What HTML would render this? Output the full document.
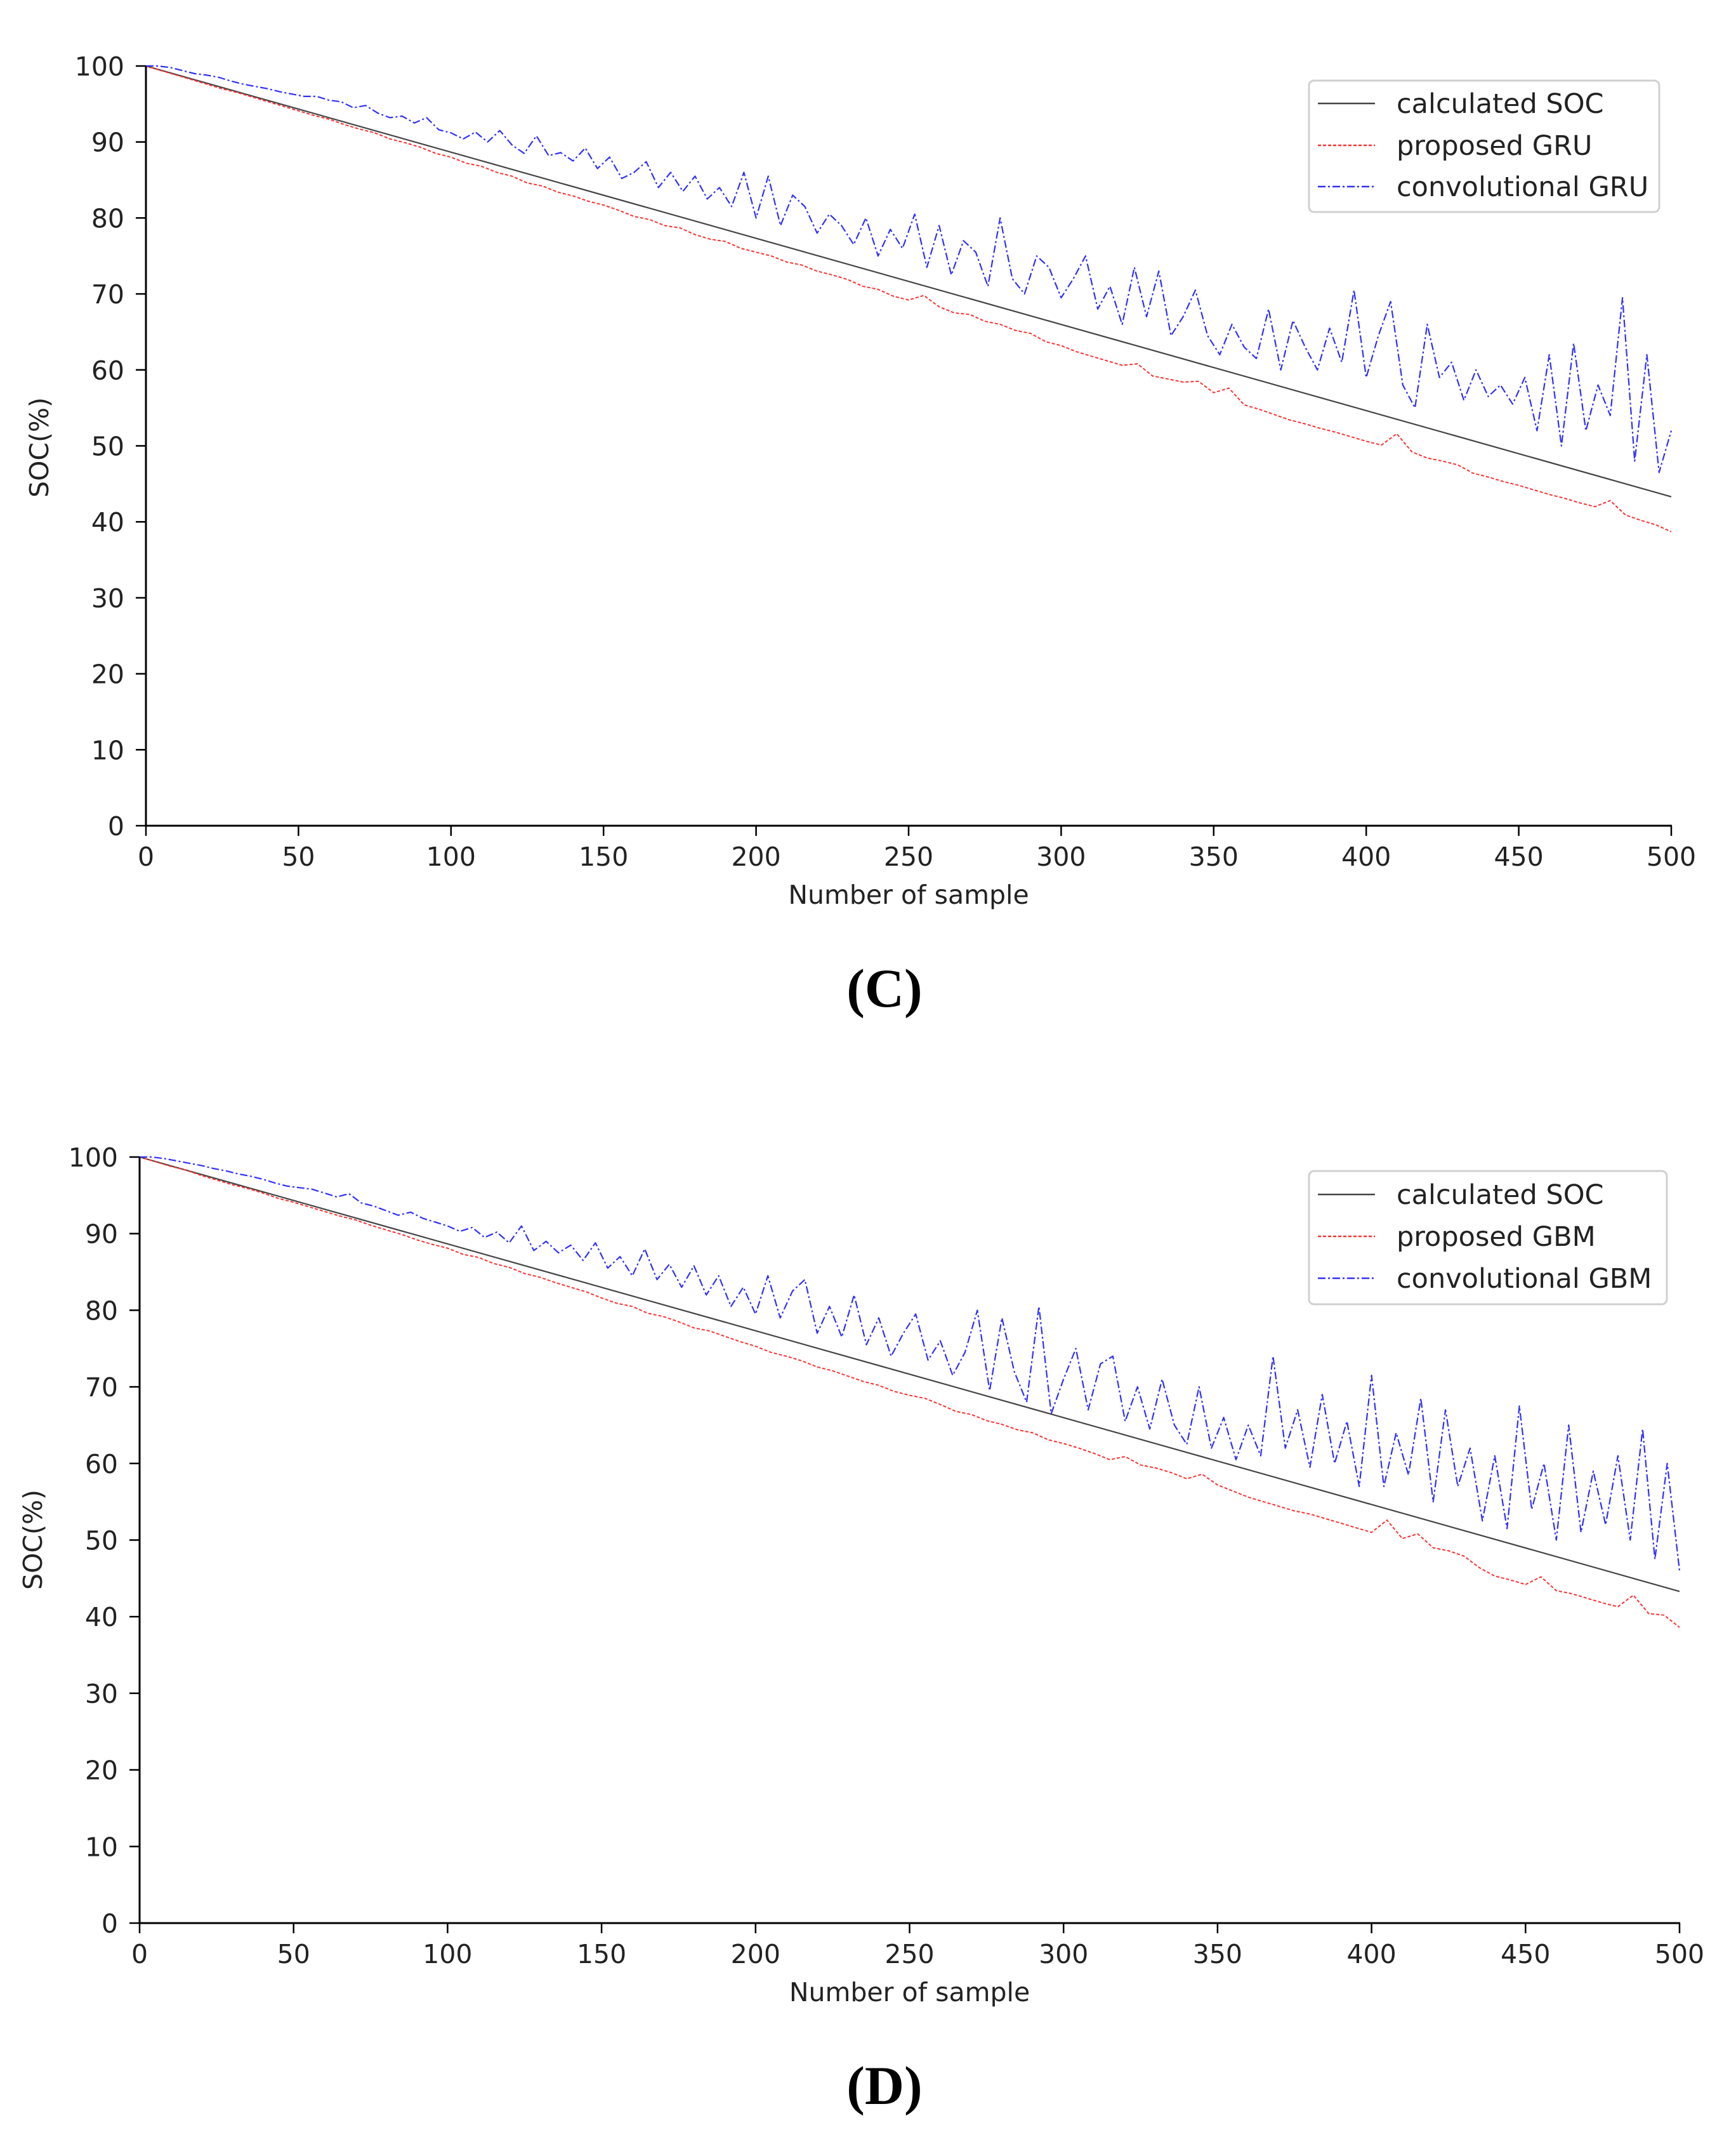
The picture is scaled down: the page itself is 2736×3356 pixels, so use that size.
<!DOCTYPE html>
<html><head><meta charset="utf-8"><style>
html,body{margin:0;padding:0;background:#fff}
svg{display:block}
text{font-family:"DejaVu Sans","Liberation Sans",sans-serif;fill:#222}
</style></head><body>
<svg id="fig" xmlns="http://www.w3.org/2000/svg" width="2736" height="3356" viewBox="0 0 2736 3356"></svg>
<script>
const xTicks=[0,50,100,150,200,250,300,350,400,450,500];
const yTicks=[0,10,20,30,40,50,60,70,80,90,100];
const calcX=[0,500];
const calcC=[100,43.3];
const calcD=[100,43.3];
const redC=[100,99.4,98.8,98.2,97.6,97.0,96.5,95.9,95.3,94.7,94.1,93.5,93.0,92.3,91.7,91.2,90.4,89.9,89.3,88.5,88.0,87.2,86.8,86.0,85.5,84.6,84.2,83.4,82.9,82.2,81.7,81.0,80.2,79.8,79.0,78.7,77.8,77.2,76.9,76.0,75.5,75.0,74.2,73.8,73.0,72.5,71.9,71.0,70.6,69.7,69.2,69.8,68.3,67.5,67.3,66.4,66.0,65.2,64.8,63.7,63.2,62.4,61.8,61.2,60.6,60.8,59.2,58.8,58.4,58.5,57.0,57.6,55.4,54.8,54.1,53.4,52.9,52.3,51.8,51.2,50.6,50.1,51.6,49.2,48.4,48.0,47.5,46.4,45.9,45.3,44.8,44.2,43.6,43.1,42.5,42.0,42.8,40.9,40.2,39.6,38.7];
const blueC=[100,100,99.8,99.4,99,98.8,98.5,98,97.6,97.3,97,96.6,96.3,96,96,95.5,95.3,94.5,94.8,93.8,93.2,93.4,92.5,93.2,91.6,91.2,90.4,91.3,90,91.5,89.6,88.5,90.8,88.2,88.6,87.5,89.2,86.5,88,85.2,86,87.4,84,86,83.5,85.5,82.5,84,81.5,86,80,85.5,79,83,81.5,78,80.5,79,76.5,80,75,78.5,76,80.5,73.5,79,72.5,77,75.5,71,80,72,70,75,73.5,69.5,72,75,68,71,66,73.5,67,73,64.5,67,70.5,64.5,62,66,63,61.5,68,60,66.5,63,60,65.5,61,70.5,59,64.5,69,58,55,66,59,61,56,60,56.5,58,55.5,59,52,62,50,63.5,52,58,54,69.5,48,62,46.5,52];
const redD=[100,99.4,98.8,98.3,97.6,97.0,96.4,95.9,95.3,94.6,94.1,93.5,92.9,92.3,91.8,91.1,90.5,89.9,89.2,88.6,88.1,87.3,86.9,86.1,85.6,84.8,84.3,83.6,83.0,82.4,81.6,80.9,80.5,79.6,79.2,78.5,77.7,77.3,76.6,75.9,75.3,74.5,74.0,73.4,72.6,72.1,71.4,70.7,70.2,69.4,68.9,68.5,67.7,66.8,66.4,65.6,65.1,64.4,64.0,63.1,62.6,62.0,61.3,60.5,60.9,59.8,59.4,58.8,58.0,58.6,57.2,56.4,55.6,55.0,54.4,53.8,53.4,52.8,52.2,51.6,51.0,52.6,50.2,50.8,49.0,48.6,47.9,46.4,45.3,44.8,44.2,45.2,43.4,43.0,42.4,41.8,41.3,42.8,40.4,40.2,38.6];
const blueD=[100,100,99.8,99.5,99.2,98.9,98.5,98.2,97.8,97.5,97.1,96.6,96.2,96,95.8,95.3,94.8,95.2,94,93.6,93,92.4,92.8,92,91.5,91,90.3,90.8,89.5,90.2,88.8,91,87.8,89,87.5,88.5,86.5,88.8,85.5,87,84.5,88,84,86,83,85.8,82,84.5,80.5,83,79.5,84.5,79,82.5,84,77,80.5,76.5,82,75.5,79,74,77,79.5,73.5,76,71.5,74.5,80,69.5,79,72,68,80.5,66.5,71,75,67,73,74,65.5,70,64.5,71,65,62.5,70,62,66,60.5,65,61,74,62,67,59.5,69,60,65.5,57,71.5,57,64,58.5,68.5,55,67,57,62,52.5,61,51.5,67.5,54,60,50,65,51,59,52,61,50,64.5,47.5,60,46];
const redStep=5, blueStep=4;

const NS="http://www.w3.org/2000/svg";
const svg=document.getElementById('fig');
function mk(tag,attrs,parent){const e=document.createElementNS(NS,tag);for(const k in attrs)e.setAttribute(k,attrs[k]);(parent||svg).appendChild(e);return e;}

function drawChart(cfg){
  const g=mk('g',{});
  
  
  const sx=v=>cfg.x0+(cfg.x1-cfg.x0)*v/500;
  const sy=v=>cfg.y0+(cfg.y100-cfg.y0)*v/100;
  const path=(xs,ys)=>ys.map((v,i)=>(i?'L':'M')+sx(xs[i]).toFixed(1)+' '+sy(v).toFixed(1)).join(' ');
  const idx=(arr,step)=>arr.map((_,i)=>i*step);
  const c=mk('path',{d:path(calcX,cfg.calc),fill:'none',stroke:'#444',"stroke-width":2.2},g);
  
  
  const r=mk('path',{d:path(idx(cfg.red,redStep),cfg.red),fill:'none',stroke:'#ff3030',"stroke-width":2,"stroke-dasharray":"5 3"},g);
  
  
  const b=mk('path',{d:path(idx(cfg.blue,blueStep),cfg.blue),fill:'none',stroke:'#3030ff',"stroke-width":2.2,"stroke-dasharray":"12 4 3 4","stroke-linejoin":"round"},g);
  
  
  // axes
  const ya=mk('line',{x1:cfg.x0,y1:cfg.y100,x2:cfg.x0,y2:cfg.y0+1.5,stroke:'#000',"stroke-width":3},g);
  
  
  const xa=mk('line',{x1:cfg.x0-1.5,y1:cfg.y0,x2:cfg.x1+1,y2:cfg.y0,stroke:'#000',"stroke-width":3},g);
  
  
  xTicks.forEach(v=>{
    mk('line',{x1:sx(v),y1:cfg.y0,x2:sx(v),y2:cfg.y0+16,stroke:'#000',"stroke-width":2.5},g);
    const t=mk('text',{x:sx(v),y:cfg.y0+63,"text-anchor":"middle","font-size":41},g);
    t.textContent=v;
    
    
  });
  yTicks.forEach(v=>{
    mk('line',{x1:cfg.x0-16,y1:sy(v),x2:cfg.x0,y2:sy(v),stroke:'#000',"stroke-width":2.5},g);
    const t=mk('text',{x:cfg.x0-34,y:sy(v)+15,"text-anchor":"end","font-size":41},g);
    t.textContent=v;
    
    
  });
  const xl=mk('text',{x:(cfg.x0+cfg.x1)/2,y:cfg.y0+123,"text-anchor":"middle","font-size":41},g);
  xl.textContent='Number of sample';
  
  
  const yl=mk('text',{x:0,y:0,"text-anchor":"middle","font-size":41,transform:`translate(${cfg.ylx+14},${cfg.yly}) rotate(-90)`},g);
  yl.textContent='SOC(%)';
  
  
  // legend
  const L=cfg.leg;
  const lg=mk('g',{},g);
  
  
  mk('rect',{x:L.x,y:L.y,width:L.w,height:L.h,rx:8,fill:'#fff',stroke:'#d0d0d0',"stroke-width":3},lg);
  const styles=[{s:'#444',d:''},{s:'#ff3030',d:'5 3'},{s:'#3030ff',d:'12 4 3 4'}];
  cfg.labels.forEach((lab,i)=>{
    const yy=L.rows[i];
    const h=mk('line',{x1:L.x+14,y1:yy,x2:L.x+104,y2:yy,stroke:styles[i].s,"stroke-width":2.5,"stroke-dasharray":styles[i].d},lg);
    
    
    const t=mk('text',{x:L.x+138,y:yy+15,"font-size":43},lg);
    t.textContent=lab;
    
    
  });
  const tt=mk('text',{x:1394,y:cfg.y0+285,"text-anchor":"middle","font-size":86,"font-weight":"bold",style:'font-family:"Liberation Serif",serif;fill:#000'},g);
  tt.textContent=cfg.title;
  
  
}

drawChart({name:'chart-c',x0:230,x1:2634,y0:1301,y100:104,calc:calcC,red:redC,blue:blueC,
  ylx:62,yly:705,title:'(C)',labels:['calculated SOC','proposed GRU','convolutional GRU'],
  leg:{x:2063,y:127,w:552,h:207,rows:[163,229,294]}});
drawChart({name:'chart-d',x0:220,x1:2647,y0:3030,y100:1823,calc:calcD,red:redD,blue:blueD,
  ylx:52,yly:2426,title:'(D)',labels:['calculated SOC','proposed GBM','convolutional GBM'],
  leg:{x:2063,y:1845,w:564,h:210,rows:[1882,1948,2014]}});
</script>
</body></html>
